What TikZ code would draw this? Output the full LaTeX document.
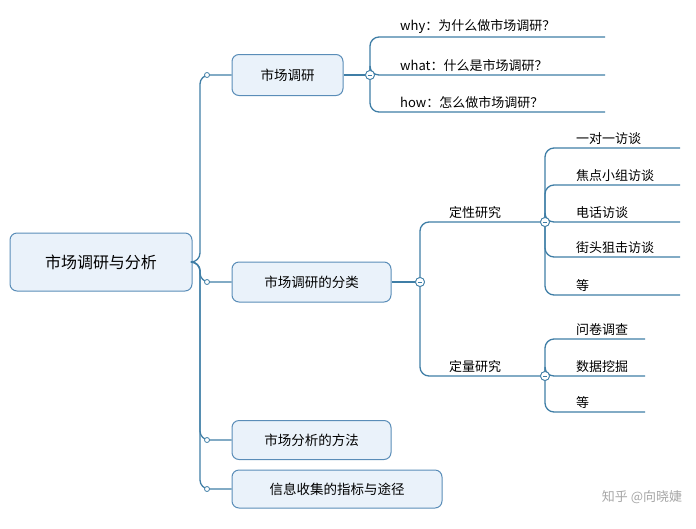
\documentclass[tikz,border=0pt]{standalone}
\usepackage{fontspec}
\setmainfont{Noto Sans CJK SC}
\begin{document}
\begin{tikzpicture}[x=1pt,y=-1pt,
  ln/.style={draw=lc,line width=1.3pt,rounded corners=9pt},
  box/.style={draw=bc,fill=bf,line width=1pt,rounded corners=7pt,font=\fontsize{13.5}{15}\selectfont,inner sep=0pt},
  lf/.style={anchor=south west,font=\fontsize{13}{15}\selectfont,inner sep=0pt,yshift=3pt},
  knob/.style={circle,draw=lc,fill=white,line width=0.8pt,inner sep=0pt,minimum size=7pt},
  minus/.style={knob,minimum size=9pt,path picture={\draw[lc,line width=0.6pt] ([xshift=-2.2pt]path picture bounding box.center)--([xshift=2.2pt]path picture bounding box.center);}}]
\definecolor{lc}{HTML}{3F7EA6}
\definecolor{bc}{HTML}{5A8DB8}
\definecolor{bf}{HTML}{EAF2FA}
\useasboundingbox (0,0) rectangle (696,528);
\node[box,minimum width=182pt,minimum height=58pt,font=\fontsize{16}{18}\selectfont] (root) at (101,262) {市场调研与分析};
\node[box,minimum width=111pt,minimum height=41pt] (a) at (287.5,75) {市场调研};
\node[box,minimum width=159pt,minimum height=40pt] (b) at (311.5,282) {市场调研的分类};
\node[box,minimum width=159pt,minimum height=39pt] (c) at (311.5,440) {市场分析的方法};
\node[box,minimum width=210pt,minimum height=38pt] (d) at (337,489) {信息收集的指标与途径};
\coordinate (t) at (200,262);
\foreach \n in {a,b,c,d}{\draw[ln] (root.east) -- (t) |- (\n.west);}
\foreach \y in {75,282,440,489}{\node[knob,minimum size=5pt] at (207,\y) {};}
% level a
\node[minus] (ma) at (370,75) {};
\draw[ln] (a.east) -- (ma);
\foreach \nm/\y/\t in {w1/37/{why：为什么做市场调研？},w2/75/{what：什么是市场调研？},w3/112/{how：怎么做市场调研？}}{
  \coordinate (\nm) at (605,\y);
  \draw[ln] (ma.center) |- (\nm);
  \node[lf] at (400,\y) {\t};}
\node[minus] at (370,75) {};
% level b
\node[minus] (mb) at (420,282) {};
\draw[ln] (b.east) -- (mb);
\coordinate (q1) at (545,222); \coordinate (q2) at (545,376);
\draw[ln] (mb.center) |- (q1); \draw[ln] (mb.center) |- (q2);
\node[lf] at (449,222) {定性研究};
\node[lf] at (449,376) {定量研究};
\node[minus] at (420,282) {};
\node[minus] (m1) at (545,222) {};
\foreach \nm/\y/\t in {p1/148/一对一访谈,p2/185/焦点小组访谈,p3/222/电话访谈,p4/257/街头狙击访谈,p5/295/等}{
  \coordinate (\nm) at (680,\y);
  \draw[ln] (m1.center) |- (\nm);
  \node[lf] at (576,\y) {\t};}
\node[minus] at (545,222) {};
\node[minus] (m2) at (545,376) {};
\foreach \nm/\y/\t in {r1/339/问卷调查,r2/376/数据挖掘,r3/412/等}{
  \coordinate (\nm) at (645,\y);
  \draw[ln] (m2.center) |- (\nm);
  \node[lf] at (576,\y) {\t};}
\node[minus] at (545,376) {};
\node[text=gray!70,font=\fontsize{13}{15}\selectfont] (wm) at (642,497) {知乎 @向晓婕};
\end{tikzpicture}
\end{document}
